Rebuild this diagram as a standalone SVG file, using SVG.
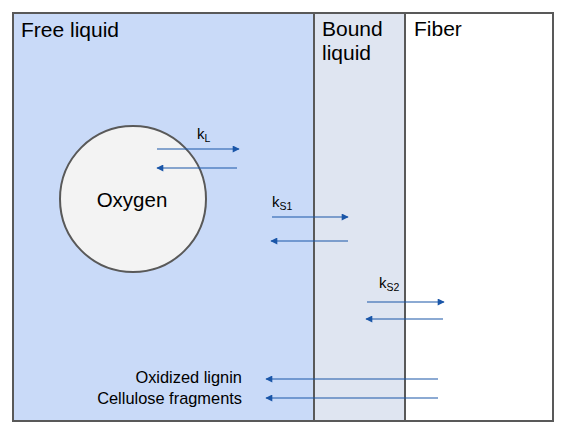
<svg xmlns="http://www.w3.org/2000/svg" width="564" height="434" viewBox="0 0 564 434">
<style>
text{font-family:"Liberation Sans",Arial,sans-serif;fill:#000}
.big{font-size:21px}
.sm{font-size:16.4px}
.k{font-size:15px}
.sub{font-size:10.5px}
.arr{stroke:#1a56a8;stroke-width:1.2;fill:none;marker-end:url(#ah)}
.zone{stroke:#595959;stroke-width:2}
</style>
<defs>
<marker id="ah" viewBox="0 0 10 10" refX="9" refY="5" markerWidth="8" markerHeight="7" markerUnits="userSpaceOnUse" orient="auto">
<path d="M0,0 L10,5 L0,10 Z" fill="#1a56a8"/>
</marker>
</defs>
<rect width="564" height="434" fill="#ffffff"/>
<g id="free-liquid">
<rect class="zone" x="13" y="13" width="301" height="408" fill="#c9daf8"/>
<text class="big" x="21" y="37">Free liquid</text>
</g>
<g id="bound-liquid">
<rect class="zone" x="314" y="13" width="91" height="408" fill="#dfe5f1"/>
<text class="big" x="322" y="36">Bound</text>
<text class="big" x="322" y="60">liquid</text>
</g>
<g id="fiber">
<rect class="zone" x="405" y="13" width="148" height="408" fill="#ffffff"/>
<text class="big" x="414" y="36">Fiber</text>
</g>
<g id="oxygen">
<circle cx="133" cy="199" r="73" fill="#f3f3f3" stroke="#595959" stroke-width="2"/>
<text class="big" x="132" y="207" text-anchor="middle" style="font-size:20.5px">Oxygen</text>
</g>
<g id="connectors">
<line class="arr" x1="157" y1="149" x2="239" y2="149"/>
<line class="arr" x1="237" y1="168" x2="157" y2="168"/>
<line class="arr" x1="272" y1="217" x2="348" y2="217"/>
<line class="arr" x1="348" y1="241" x2="271" y2="241"/>
<line class="arr" x1="367" y1="302" x2="444" y2="302"/>
<line class="arr" x1="443" y1="319" x2="366" y2="319"/>
<line class="arr" x1="438" y1="379" x2="266" y2="379"/>
<line class="arr" x1="438" y1="398" x2="266" y2="398"/>
</g>
<g id="labels">
<text class="k" x="197" y="139">k<tspan class="sub" dy="3">L</tspan></text>
<text class="k" x="272" y="207">k<tspan class="sub" dy="3">S1</tspan></text>
<text class="k" x="379" y="288">k<tspan class="sub" dy="3">S2</tspan></text>
<text class="sm" x="242" y="383" text-anchor="end">Oxidized lignin</text>
<text class="sm" x="242" y="404" text-anchor="end">Cellulose fragments</text>
</g>
</svg>
